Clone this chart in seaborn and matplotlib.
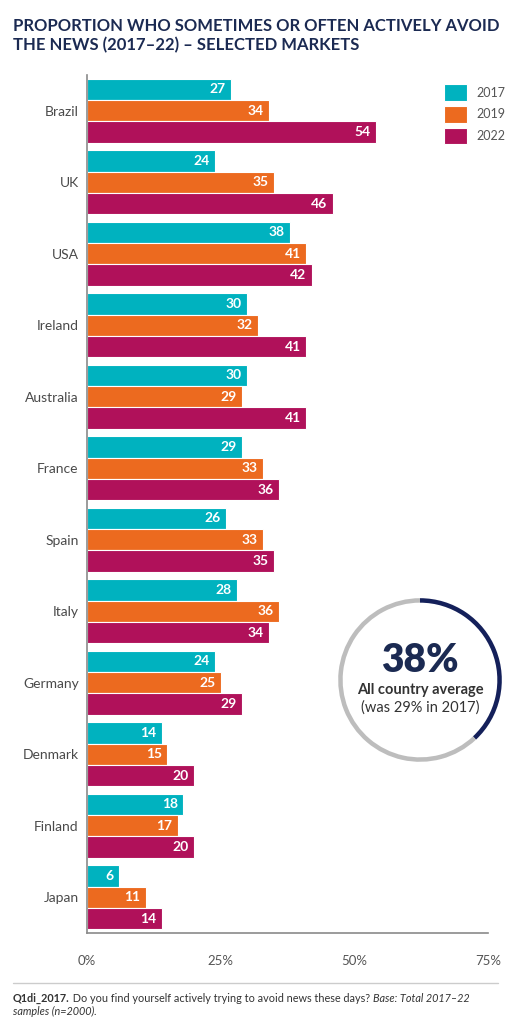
import numpy as np
import pandas as pd
import matplotlib
matplotlib.use("Agg")
import matplotlib.pyplot as plt
import seaborn as sns

countries = ["Brazil", "UK", "USA", "Ireland", "Australia", "France",
             "Spain", "Italy", "Germany", "Denmark", "Finland", "Japan"]
years = ["2017", "2019", "2022"]
avoid_2017 = [27, 24, 38, 30, 30, 29, 26, 28, 24, 14, 18, 6]
avoid_2019 = [34, 35, 41, 32, 29, 33, 33, 36, 25, 15, 17, 11]
avoid_2022 = [54, 46, 42, 41, 41, 36, 35, 34, 29, 20, 20, 14]
xticks = [0, 25, 50, 75]
avg_2022 = 38

colors = ["#00B2BF", "#EC6A1F", "#B0115A"]
navy = "#1B2A52"
ring_navy = "#14205A"
ring_grey = "#BDBDBD"
grey_txt = "#555555"

df = pd.DataFrame({
    "country": countries * 3,
    "year": [y for y in years for _ in countries],
    "value": avoid_2017 + avoid_2019 + avoid_2022,
})

sns.set_style("white")
plt.rcParams["font.family"] = ["Lato", "DejaVu Sans"]

W, H = 514, 1023
fig = plt.figure(figsize=(W / 100, H / 100), dpi=100)
ax = fig.add_axes([87 / W, 1 - 933 / H, (488 - 87) / W, (933 - 75) / H])

sns.barplot(data=df, y="country", x="value", hue="year", orient="h",
            palette=colors, width=0.9, edgecolor="white", linewidth=0.8,
            saturation=1, ax=ax)

ax.set_xlim(0, 75)
ax.set_ylim(11.5, -0.5)
ax.set_xticks(xticks)
ax.set_xticklabels([f"{t}%" for t in xticks])
ax.set_xlabel("")
ax.set_ylabel("")
ax.tick_params(axis="x", length=0, pad=16, labelsize=9.5, labelcolor=grey_txt)
ax.tick_params(axis="y", length=0, pad=6, labelsize=10, labelcolor="#4A4A4A")
for s in ["top", "right"]:
    ax.spines[s].set_visible(False)
for s in ["left", "bottom"]:
    ax.spines[s].set_color("#8A8A8A")
    ax.spines[s].set_linewidth(1.2)

for cont in ax.containers:
    labels = ax.bar_label(cont, padding=-4, color="white",
                          fontsize=10, fontweight="bold")
    for t in labels:
        t.set_ha("right")

handles, labs = ax.get_legend_handles_labels()
ax.legend(handles, labs, loc="upper left", bbox_to_anchor=(433 / W, 1 - 73 / H),
          bbox_transform=fig.transFigure, frameon=False, fontsize=9,
          handlelength=1.8, handleheight=1.7, labelspacing=0.38,
          handletextpad=0.8, labelcolor=grey_txt)

# donut
dax = fig.add_axes([(420 - 90) / W, 1 - (680 + 90) / H, 180 / W, 180 / H])
dax.pie([avg_2022, 100 - avg_2022], colors=[ring_navy, ring_grey],
        startangle=90, counterclock=False, radius=1,
        wedgeprops=dict(width=0.055, edgecolor="none"))
dax.set_xlim(-1.1, 1.1)
dax.set_ylim(-1.1, 1.1)
dax.set_aspect("equal")
dax.axis("off")
dax.text(0, 0.24, f"{avg_2022}%", ha="center", va="center", fontsize=28,
         fontweight="heavy", color=navy)
dax.text(0, -0.12, "All country average", ha="center", va="center",
         fontsize=10.5, fontweight="bold", color="#333333")
dax.text(0, -0.34, "(was 29% in 2017)", ha="center", va="center",
         fontsize=10.5, color="#333333")

# title
fig.text(13 / W, 1 - 26 / H, "PROPORTION WHO SOMETIMES OR OFTEN ACTIVELY AVOID",
         fontsize=12, fontweight="bold", color=navy, va="center")
fig.text(13 / W, 1 - 45 / H, "THE NEWS (2017\u201322) \u2013 SELECTED MARKETS",
         fontsize=12, fontweight="bold", color=navy, va="center")

# footer
fig.add_artist(plt.Line2D([13 / W, 498 / W], [1 - 983 / H, 1 - 983 / H],
                          color="#CCCCCC", lw=1, transform=fig.transFigure))
fig.canvas.draw()
renderer = fig.canvas.get_renderer()
x = 13
y1 = 1 - 998 / H
for txt, kw in [("Q1di_2017.", dict(fontweight="bold")),
                (" Do you find yourself actively trying to avoid news these days? ", {}),
                ("Base: Total 2017\u201322", dict(style="italic"))]:
    t = fig.text(x / W, y1, txt, fontsize=7.8, color="#333333", va="center", **kw)
    x += t.get_window_extent(renderer).width
fig.text(13 / W, 1 - 1011 / H, "samples (n=2000).", fontsize=7.8, style="italic",
         color="#333333", va="center")

fig.savefig("out.png", dpi=100)
